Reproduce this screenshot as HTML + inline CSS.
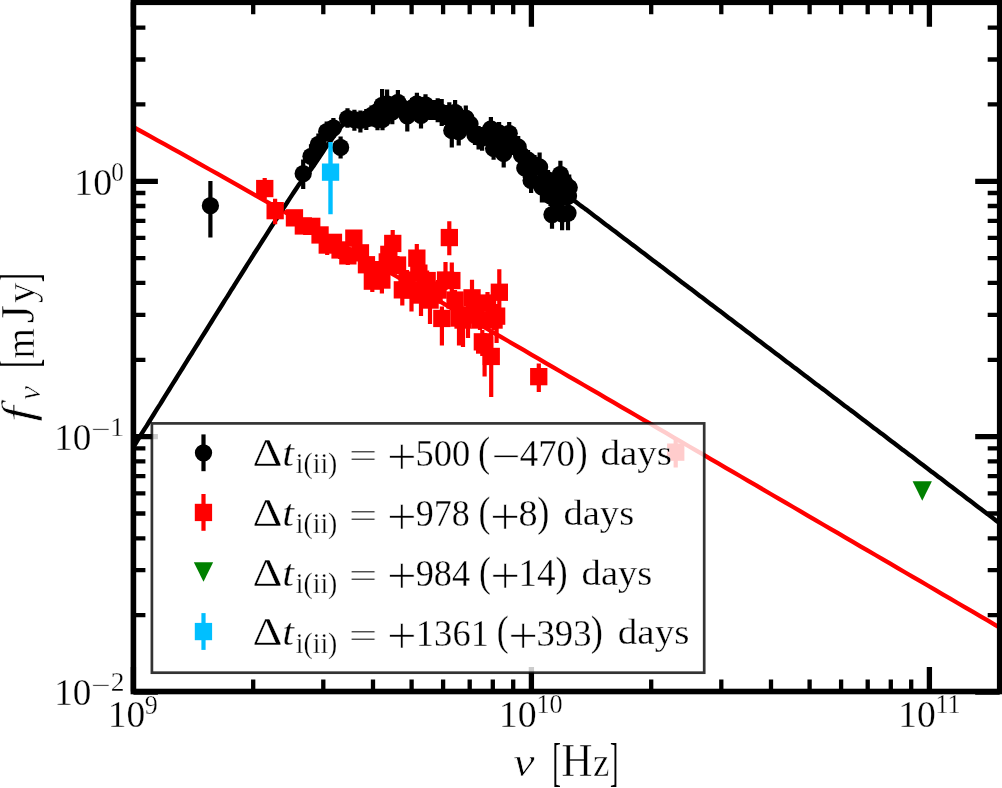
<!DOCTYPE html>
<html lang="en"><head><meta charset="utf-8"><title>Radio SED</title>
<style>html,body{margin:0;padding:0;background:#fff}svg{display:block}</style></head>
<body>
<svg width="1002" height="788" viewBox="0 0 1002 788">
<defs><clipPath id="ax"><rect x="133.4" y="2.3" width="866.3" height="689.2"/></clipPath></defs>
<rect width="1002" height="788" fill="#fff"/>
<g clip-path="url(#ax)" fill="none" stroke-linecap="butt" stroke-linejoin="round">
<polyline points="120.0,119.8 127.5,123.9 135.0,128.0 142.4,132.0 149.9,136.2 157.4,140.3 164.9,144.4 172.4,148.6 179.8,152.7 187.3,156.9 194.8,161.1 202.3,165.3 209.7,169.5 217.2,173.7 224.7,177.9 232.2,182.1 239.7,186.4 247.1,190.6 254.6,194.9 262.1,199.1 269.6,203.4 277.1,207.6 284.5,211.9 292.0,216.2 299.5,220.5 307.0,224.8 314.5,229.1 321.9,233.3 329.4,237.6 336.9,241.9 344.4,246.2 351.8,250.6 359.3,254.9 366.8,259.2 374.3,263.5 381.8,267.8 389.2,272.1 396.7,276.5 404.2,280.8 411.7,285.1 419.2,289.4 426.6,293.8 434.1,298.1 441.6,302.4 449.1,306.8 456.6,311.1 464.0,315.5 471.5,319.8 479.0,324.1 486.5,328.5 493.9,332.8 501.4,337.2 508.9,341.5 516.4,345.9 523.9,350.2 531.3,354.6 538.8,358.9 546.3,363.3 553.8,367.6 561.3,372.0 568.7,376.3 576.2,380.7 583.7,385.0 591.2,389.4 598.7,393.7 606.1,398.1 613.6,402.4 621.1,406.8 628.6,411.1 636.1,415.5 643.5,419.9 651.0,424.2 658.5,428.6 666.0,432.9 673.4,437.3 680.9,441.6 688.4,446.0 695.9,450.4 703.4,454.7 710.8,459.1 718.3,463.4 725.8,467.8 733.3,472.2 740.8,476.5 748.2,480.9 755.7,485.2 763.2,489.6 770.7,494.0 778.2,498.3 785.6,502.7 793.1,507.0 800.6,511.4 808.1,515.8 815.5,520.1 823.0,524.5 830.5,528.8 838.0,533.2 845.5,537.6 852.9,541.9 860.4,546.3 867.9,550.7 875.4,555.0 882.9,559.4 890.3,563.7 897.8,568.1 905.3,572.5 912.8,576.8 920.3,581.2 927.7,585.5 935.2,589.9 942.7,594.3 950.2,598.6 957.6,603.0 965.1,607.4 972.6,611.7 980.1,616.1 987.6,620.4 995.0,624.8 1002.5,629.2 1010.0,633.5" stroke="#f00" stroke-width="4.3"/>
<polyline points="120.0,468.5 122.2,465.0 124.5,461.4 126.7,457.8 128.9,454.2 131.2,450.6 133.4,447.0 135.6,443.5 137.8,439.9 140.1,436.3 142.3,432.7 144.5,429.1 146.8,425.6 149.0,422.0 151.2,418.4 153.5,414.8 155.7,411.2 157.9,407.6 160.2,404.1 162.4,400.5 164.6,396.9 166.8,393.3 169.1,389.7 171.3,386.2 173.5,382.6 175.8,379.0 178.0,375.4 180.2,371.9 182.5,368.3 184.7,364.7 186.9,361.1 189.1,357.5 191.4,354.0 193.6,350.4 195.8,346.8 198.1,343.2 200.3,339.7 202.5,336.1 204.8,332.5 207.0,329.0 209.2,325.4 211.5,321.8 213.7,318.2 215.9,314.7 218.1,311.1 220.4,307.5 222.6,304.0 224.8,300.4 227.1,296.9 229.3,293.3 231.5,289.7 233.8,286.2 236.0,282.6 238.2,279.1 240.5,275.5 242.7,272.0 244.9,268.5 247.1,264.9 249.4,261.4 251.6,257.9 253.8,254.3 256.1,250.8 258.3,247.3 260.5,243.8 262.8,240.3 265.0,236.8 267.2,233.3 269.4,229.8 271.7,226.3 273.9,222.9 276.1,219.4 278.4,216.0 280.6,212.5 282.8,209.1 285.1,205.7 287.3,202.3 289.5,198.9 291.8,195.4 294.0,192.0 296.2,188.7 298.4,185.4 300.7,182.3 302.9,179.5 305.1,176.7 307.4,174.0 309.6,171.2 311.8,168.3 314.1,165.1 316.3,161.8 318.5,158.5 320.8,155.1 323.0,151.7 325.2,148.4 327.4,145.2 329.7,142.1 331.9,139.0 334.1,136.0 336.4,132.9 338.6,129.8 340.8,127.1 343.1,124.7 345.3,122.6 347.5,121.3 349.7,120.4 352.0,119.8 354.2,119.2 356.4,118.7 358.7,118.3 360.9,117.9 363.1,117.4 365.4,116.9 367.6,116.2 369.8,115.2 372.1,114.2 374.3,113.2 376.5,112.2 378.7,111.4 381.0,110.7 383.2,110.1 385.4,109.5 387.7,108.9 389.9,108.3 392.1,107.9 394.4,107.5 396.6,107.2 398.8,107.0 401.1,107.0 403.3,107.0 405.5,107.1 407.7,107.2 410.0,107.4 412.2,107.6 414.4,107.8 416.7,108.0 418.9,108.3 421.1,108.5 423.4,108.8 425.6,109.1 427.8,109.5 430.1,110.0 432.3,110.5 434.5,111.2 436.7,112.0 439.0,112.8 441.2,113.6 443.4,114.4 445.7,115.3 447.9,116.2 450.1,117.0 452.4,117.9 454.6,118.9 456.8,119.9 459.0,120.9 461.3,122.0 463.5,123.1 465.7,124.2 468.0,125.3 470.2,126.4 472.4,127.5 474.7,128.6 476.9,129.6 479.1,130.6 481.4,131.6 483.6,132.5 485.8,133.3 488.0,134.1 490.3,134.9 492.5,135.7 494.7,136.5 497.0,137.3 499.2,138.2 501.4,139.0 503.7,140.0 505.9,141.0 508.1,142.0 510.4,143.2 512.6,144.5 514.8,145.9 517.0,147.4 519.3,149.1 521.5,150.8 523.7,152.7 526.0,154.6 528.2,156.5 530.4,158.5 532.7,160.6 534.9,162.6 537.1,164.7 539.3,166.8 541.6,168.9 543.8,170.9 546.0,172.9 548.3,175.0 550.5,177.2 552.7,179.5 555.0,181.7 557.2,184.0 559.4,186.4 561.7,188.7 563.9,190.9 566.1,193.2 568.3,195.3 570.6,197.4 572.8,199.4 575.0,201.3 577.3,203.1 579.5,204.8 581.7,206.4 584.0,208.0 586.2,209.6 588.4,211.3 590.7,213.0 592.9,214.7 595.1,216.4 597.3,218.1 599.6,219.8 601.8,221.5 604.0,223.2 606.3,224.9 608.5,226.5 610.7,228.2 613.0,229.9 615.2,231.6 617.4,233.3 619.6,235.0 621.9,236.7 624.1,238.4 626.3,240.1 628.6,241.8 630.8,243.5 633.0,245.1 635.3,246.8 637.5,248.5 639.7,250.2 642.0,251.9 644.2,253.6 646.4,255.3 648.6,257.0 650.9,258.7 653.1,260.4 655.3,262.1 657.6,263.8 659.8,265.4 662.0,267.1 664.3,268.8 666.5,270.5 668.7,272.2 671.0,273.9 673.2,275.6 675.4,277.3 677.6,279.0 679.9,280.7 682.1,282.4 684.3,284.1 686.6,285.7 688.8,287.4 691.0,289.1 693.3,290.8 695.5,292.5 697.7,294.2 699.9,295.9 702.2,297.6 704.4,299.3 706.6,301.0 708.9,302.7 711.1,304.4 713.3,306.0 715.6,307.7 717.8,309.4 720.0,311.1 722.3,312.8 724.5,314.5 726.7,316.2 728.9,317.9 731.2,319.6 733.4,321.3 735.6,323.0 737.9,324.7 740.1,326.3 742.3,328.0 744.6,329.7 746.8,331.4 749.0,333.1 751.3,334.8 753.5,336.5 755.7,338.2 757.9,339.9 760.2,341.6 762.4,343.3 764.6,345.0 766.9,346.7 769.1,348.3 771.3,350.0 773.6,351.7 775.8,353.4 778.0,355.1 780.3,356.8 782.5,358.5 784.7,360.2 786.9,361.9 789.2,363.6 791.4,365.3 793.6,367.0 795.9,368.6 798.1,370.3 800.3,372.0 802.6,373.7 804.8,375.4 807.0,377.1 809.2,378.8 811.5,380.5 813.7,382.2 815.9,383.9 818.2,385.6 820.4,387.3 822.6,388.9 824.9,390.6 827.1,392.3 829.3,394.0 831.6,395.7 833.8,397.4 836.0,399.1 838.2,400.8 840.5,402.5 842.7,404.2 844.9,405.9 847.2,407.6 849.4,409.3 851.6,410.9 853.9,412.6 856.1,414.3 858.3,416.0 860.6,417.7 862.8,419.4 865.0,421.1 867.2,422.8 869.5,424.5 871.7,426.2 873.9,427.9 876.2,429.6 878.4,431.2 880.6,432.9 882.9,434.6 885.1,436.3 887.3,438.0 889.5,439.7 891.8,441.4 894.0,443.1 896.2,444.8 898.5,446.5 900.7,448.2 902.9,449.9 905.2,451.5 907.4,453.2 909.6,454.9 911.9,456.6 914.1,458.3 916.3,460.0 918.5,461.7 920.8,463.4 923.0,465.1 925.2,466.8 927.5,468.5 929.7,470.2 931.9,471.9 934.2,473.5 936.4,475.2 938.6,476.9 940.9,478.6 943.1,480.3 945.3,482.0 947.5,483.7 949.8,485.4 952.0,487.1 954.2,488.8 956.5,490.5 958.7,492.2 960.9,493.8 963.2,495.5 965.4,497.2 967.6,498.9 969.8,500.6 972.1,502.3 974.3,504.0 976.5,505.7 978.8,507.4 981.0,509.1 983.2,510.8 985.5,512.5 987.7,514.1 989.9,515.8 992.2,517.5 994.4,519.2 996.6,520.9 998.8,522.6 1001.1,524.3 1003.3,526.0 1005.5,527.7 1007.8,529.4 1010.0,531.1" stroke="#000" stroke-width="4.4"/>
</g>
<g clip-path="url(#ax)">
<path d="M210.4 181.1V237.5M303.2 159.6V189.1M311.0 144.3V168.3M318.4 133.4V155.4M326.7 121.6V141.6M333.4 117.9V137.9M340.6 136.4V158.6M347.5 108.3V127.8M354.4 109.7V130.7M360.4 110.4V132.4M366.3 108.9V129.9M371.5 105.5V126.5M376.8 102.0V123.0M377.5 109.5V130.2M382.5 109.5V130.2M382.1 89.1V117.3M387.1 89.6V115.9M392.3 100.8V124.3M397.9 89.9V114.3M402.6 98.0V119.0M407.3 103.9V131.6M412.1 98.0V119.0M416.9 92.8V114.8M421.0 103.4V128.4M425.5 94.3V115.8M430.2 100.0V120.0M434.2 100.0V120.0M437.7 98.3V122.3M441.7 99.1V126.1M445.7 105.0V125.0M449.3 102.3V126.3M451.8 116.5V147.5M455.1 100.0V124.3M458.7 119.7V145.4M462.0 110.0V130.0M465.8 105.6V130.1M470.0 114.0V134.0M475.0 125.0V145.0M478.6 126.0V149.5M482.1 127.0V150.7M486.0 125.0V145.0M490.9 117.1V140.8M493.6 137.5V159.8M496.5 130.0V150.0M499.1 122.0V144.0M503.7 141.5V167.5M506.5 130.0V150.0M509.2 122.0V144.3M513.0 135.0V155.0M518.2 136.0V158.0M521.5 145.0V165.0M524.8 158.0V178.0M528.0 150.0V170.0M531.1 168.5V193.0M534.5 155.0V175.0M539.6 152.5V179.0M541.9 175.0V202.5M544.9 176.0V202.5M548.0 170.0V190.0M552.0 202.6V228.8M550.5 186.0V206.0M557.5 191.0V211.0M555.0 175.0V195.0M558.0 180.0V200.0M560.4 160.8V186.3M562.1 202.0V230.3M565.0 185.0V205.0M568.0 201.1V230.3M569.2 174.5V197.5M564.5 172.5V192.5M568.5 186.0V206.0" stroke="#000" stroke-width="4.2" fill="none"/>
<g fill="#000"><circle cx="210.4" cy="205.7" r="8.65"/><circle cx="303.2" cy="173.6" r="8.65"/><circle cx="311.0" cy="156.3" r="8.65"/><circle cx="318.4" cy="144.4" r="8.65"/><circle cx="326.7" cy="131.6" r="8.65"/><circle cx="333.4" cy="127.9" r="8.65"/><circle cx="340.6" cy="147.4" r="8.65"/><circle cx="347.5" cy="118.3" r="8.65"/><circle cx="354.4" cy="119.7" r="8.65"/><circle cx="360.4" cy="120.4" r="8.65"/><circle cx="366.3" cy="118.9" r="8.65"/><circle cx="371.5" cy="115.5" r="8.65"/><circle cx="376.8" cy="112.0" r="8.65"/><circle cx="377.5" cy="119.5" r="8.65"/><circle cx="382.5" cy="119.5" r="8.65"/><circle cx="382.1" cy="105.3" r="8.65"/><circle cx="387.1" cy="103.9" r="8.65"/><circle cx="392.3" cy="111.8" r="8.65"/><circle cx="397.9" cy="102.3" r="8.65"/><circle cx="402.6" cy="108.0" r="8.65"/><circle cx="407.3" cy="115.9" r="8.65"/><circle cx="412.1" cy="108.0" r="8.65"/><circle cx="416.9" cy="103.8" r="8.65"/><circle cx="421.0" cy="115.4" r="8.65"/><circle cx="425.5" cy="104.8" r="8.65"/><circle cx="430.2" cy="110.0" r="8.65"/><circle cx="434.2" cy="110.0" r="8.65"/><circle cx="437.7" cy="110.3" r="8.65"/><circle cx="441.7" cy="112.6" r="8.65"/><circle cx="445.7" cy="115.0" r="8.65"/><circle cx="449.3" cy="114.3" r="8.65"/><circle cx="451.8" cy="130.5" r="8.65"/><circle cx="455.1" cy="112.3" r="8.65"/><circle cx="458.7" cy="131.7" r="8.65"/><circle cx="462.0" cy="120.0" r="8.65"/><circle cx="465.8" cy="118.1" r="8.65"/><circle cx="470.0" cy="124.0" r="8.65"/><circle cx="475.0" cy="135.0" r="8.65"/><circle cx="478.6" cy="137.0" r="8.65"/><circle cx="482.1" cy="138.0" r="8.65"/><circle cx="486.0" cy="135.0" r="8.65"/><circle cx="490.9" cy="128.8" r="8.65"/><circle cx="493.6" cy="148.5" r="8.65"/><circle cx="496.5" cy="140.0" r="8.65"/><circle cx="499.1" cy="133.0" r="8.65"/><circle cx="503.7" cy="153.5" r="8.65"/><circle cx="506.5" cy="140.0" r="8.65"/><circle cx="509.2" cy="133.3" r="8.65"/><circle cx="513.0" cy="145.0" r="8.65"/><circle cx="518.2" cy="147.0" r="8.65"/><circle cx="521.5" cy="155.0" r="8.65"/><circle cx="524.8" cy="168.0" r="8.65"/><circle cx="528.0" cy="160.0" r="8.65"/><circle cx="531.1" cy="180.5" r="8.65"/><circle cx="534.5" cy="165.0" r="8.65"/><circle cx="539.6" cy="167.0" r="8.65"/><circle cx="541.9" cy="187.0" r="8.65"/><circle cx="544.9" cy="188.0" r="8.65"/><circle cx="548.0" cy="180.0" r="8.65"/><circle cx="552.0" cy="214.6" r="8.65"/><circle cx="550.5" cy="196.0" r="8.65"/><circle cx="557.5" cy="201.0" r="8.65"/><circle cx="555.0" cy="185.0" r="8.65"/><circle cx="558.0" cy="190.0" r="8.65"/><circle cx="560.4" cy="174.3" r="8.65"/><circle cx="562.1" cy="214.0" r="8.65"/><circle cx="565.0" cy="195.0" r="8.65"/><circle cx="568.0" cy="213.1" r="8.65"/><circle cx="569.2" cy="187.5" r="8.65"/><circle cx="564.5" cy="182.5" r="8.65"/><circle cx="568.5" cy="196.0" r="8.65"/></g>
<path d="M264.7 178.1V199.1M275.1 198.7V224.2M294.4 209.9V225.9M303.3 218.0V234.0M311.7 218.3V234.3M320.0 227.0V243.0M327.2 237.1V255.1M333.4 234.3V252.3M340.0 242.0V259.0M347.8 247.9V264.9M353.9 230.2V246.2M360.4 244.8V260.8M366.4 256.7V272.7M372.3 271.1V292.1M377.0 261.0V279.0M381.9 268.0V293.6M387.2 252.0V285.0M388.8 246.3V262.3M392.7 229.9V257.4M397.5 256.0V274.0M402.3 277.8V305.4M407.0 270.0V290.0M411.5 278.0V311.5M416.8 244.1V272.1M418.9 263.1V283.1M427.1 270.5V290.5M421.0 283.0V316.0M425.0 280.0V302.0M430.0 288.0V324.0M434.0 285.0V307.0M438.0 280.0V300.0M441.9 306.4V345.4M445.5 262.0V290.0M449.3 221.3V255.2M451.8 262.5V292.5M455.0 290.0V310.0M459.0 306.0V345.5M463.0 308.0V347.0M468.0 303.0V338.0M472.0 279.8V309.8M476.0 300.0V320.0M480.0 310.0V330.0M482.3 329.9V355.9M484.6 333.0V376.6M487.5 292.0V313.0M491.2 331.4V397.1M494.0 310.0V330.0M496.6 304.1V343.1M499.3 269.2V317.2M538.8 363.4V391.9M675.7 438.6V467.5" stroke="#f00" stroke-width="4.2" fill="none"/>
<g fill="#f00"><rect x="256.1" y="179.9" width="17.3" height="17.3"/><rect x="266.5" y="202.0" width="17.3" height="17.3"/><rect x="285.8" y="209.2" width="17.3" height="17.3"/><rect x="294.7" y="217.3" width="17.3" height="17.3"/><rect x="303.1" y="217.7" width="17.3" height="17.3"/><rect x="311.4" y="226.3" width="17.3" height="17.3"/><rect x="318.6" y="236.4" width="17.3" height="17.3"/><rect x="324.8" y="233.7" width="17.3" height="17.3"/><rect x="331.4" y="241.3" width="17.3" height="17.3"/><rect x="339.2" y="247.2" width="17.3" height="17.3"/><rect x="345.2" y="229.5" width="17.3" height="17.3"/><rect x="351.8" y="244.2" width="17.3" height="17.3"/><rect x="357.8" y="256.1" width="17.3" height="17.3"/><rect x="363.7" y="272.5" width="17.3" height="17.3"/><rect x="368.4" y="261.4" width="17.3" height="17.3"/><rect x="373.2" y="271.4" width="17.3" height="17.3"/><rect x="378.6" y="253.3" width="17.3" height="17.3"/><rect x="380.2" y="245.7" width="17.3" height="17.3"/><rect x="384.1" y="234.8" width="17.3" height="17.3"/><rect x="388.9" y="256.4" width="17.3" height="17.3"/><rect x="393.7" y="281.2" width="17.3" height="17.3"/><rect x="398.4" y="271.4" width="17.3" height="17.3"/><rect x="402.9" y="281.4" width="17.3" height="17.3"/><rect x="408.2" y="249.5" width="17.3" height="17.3"/><rect x="410.2" y="264.5" width="17.3" height="17.3"/><rect x="418.5" y="271.9" width="17.3" height="17.3"/><rect x="412.4" y="286.4" width="17.3" height="17.3"/><rect x="416.4" y="281.4" width="17.3" height="17.3"/><rect x="421.4" y="291.4" width="17.3" height="17.3"/><rect x="425.4" y="286.4" width="17.3" height="17.3"/><rect x="429.4" y="281.4" width="17.3" height="17.3"/><rect x="433.2" y="309.8" width="17.3" height="17.3"/><rect x="436.9" y="271.4" width="17.3" height="17.3"/><rect x="440.7" y="228.9" width="17.3" height="17.3"/><rect x="443.2" y="271.9" width="17.3" height="17.3"/><rect x="446.4" y="291.4" width="17.3" height="17.3"/><rect x="450.4" y="309.4" width="17.3" height="17.3"/><rect x="454.4" y="311.4" width="17.3" height="17.3"/><rect x="459.4" y="306.4" width="17.3" height="17.3"/><rect x="463.4" y="289.2" width="17.3" height="17.3"/><rect x="467.4" y="301.4" width="17.3" height="17.3"/><rect x="471.4" y="311.4" width="17.3" height="17.3"/><rect x="473.7" y="333.2" width="17.3" height="17.3"/><rect x="476.0" y="336.4" width="17.3" height="17.3"/><rect x="478.9" y="294.4" width="17.3" height="17.3"/><rect x="482.6" y="347.8" width="17.3" height="17.3"/><rect x="485.4" y="311.4" width="17.3" height="17.3"/><rect x="488.0" y="307.5" width="17.3" height="17.3"/><rect x="490.7" y="283.6" width="17.3" height="17.3"/><rect x="530.1" y="368.0" width="17.3" height="17.3"/><rect x="667.1" y="443.5" width="17.3" height="17.3"/></g>
<path d="M912.60 481.30H931.90L922.25 500.75Z" fill="#008000"/>
<path d="M330.5 142V214.3" stroke="#00bfff" stroke-width="4.4"/>
<rect x="321.9" y="163.5" width="17.3" height="17.3" fill="#00bfff"/>
</g>
<path d="M133.4 691.5v-24.5M133.4 2.3v24.5M531.4 691.5v-24.5M531.4 2.3v24.5M929.4 691.5v-24.5M929.4 2.3v24.5M133.4 692.0h24.5M999.7 692.0h-24.5M133.4 436.6h24.5M999.7 436.6h-24.5M133.4 181.3h24.5M999.7 181.3h-24.5" stroke="#000" stroke-width="5.3" fill="none"/>
<path d="M253.2 691.5v-12.0M253.2 2.3v12.0M323.3 691.5v-12.0M323.3 2.3v12.0M373.0 691.5v-12.0M373.0 2.3v12.0M411.6 691.5v-12.0M411.6 2.3v12.0M443.1 691.5v-12.0M443.1 2.3v12.0M469.7 691.5v-12.0M469.7 2.3v12.0M492.8 691.5v-12.0M492.8 2.3v12.0M513.2 691.5v-12.0M513.2 2.3v12.0M651.2 691.5v-12.0M651.2 2.3v12.0M721.3 691.5v-12.0M721.3 2.3v12.0M771.0 691.5v-12.0M771.0 2.3v12.0M809.6 691.5v-12.0M809.6 2.3v12.0M841.1 691.5v-12.0M841.1 2.3v12.0M867.7 691.5v-12.0M867.7 2.3v12.0M890.8 691.5v-12.0M890.8 2.3v12.0M911.2 691.5v-12.0M911.2 2.3v12.0M133.4 615.1h12.0M999.7 615.1h-12.0M133.4 570.2h12.0M999.7 570.2h-12.0M133.4 538.3h12.0M999.7 538.3h-12.0M133.4 513.5h12.0M999.7 513.5h-12.0M133.4 493.3h12.0M999.7 493.3h-12.0M133.4 476.2h12.0M999.7 476.2h-12.0M133.4 461.4h12.0M999.7 461.4h-12.0M133.4 448.3h12.0M999.7 448.3h-12.0M133.4 359.8h12.0M999.7 359.8h-12.0M133.4 314.8h12.0M999.7 314.8h-12.0M133.4 282.9h12.0M999.7 282.9h-12.0M133.4 258.2h12.0M999.7 258.2h-12.0M133.4 237.9h12.0M999.7 237.9h-12.0M133.4 220.9h12.0M999.7 220.9h-12.0M133.4 206.0h12.0M999.7 206.0h-12.0M133.4 193.0h12.0M999.7 193.0h-12.0M133.4 104.4h12.0M999.7 104.4h-12.0M133.4 59.5h12.0M999.7 59.5h-12.0M133.4 27.6h12.0M999.7 27.6h-12.0M133.4 2.8h12.0M999.7 2.8h-12.0" stroke="#000" stroke-width="4.3" fill="none"/>
<rect x="133.4" y="2.3" width="866.3" height="689.2" fill="none" stroke="#000" stroke-width="5.6"/>
<rect x="151.9" y="423.4" width="552.3" height="249.3" fill="#fff" fill-opacity="0.8" stroke="#000" stroke-opacity="0.8" stroke-width="2.7"/>
<path d="M203.5 434.4v36.8" stroke="#000" stroke-width="4.2"/>
<circle cx="203.5" cy="452.8" r="8.65" fill="#000"/>
<path d="M203.5 494.0v36.8" stroke="#f00" stroke-width="4.2"/>
<rect x="194.8" y="503.8" width="17.3" height="17.3" fill="#f00"/>
<path d="M193.85 562.30H213.15L203.50 581.70Z" fill="#008000"/>
<path d="M203.5 613.1v36.8" stroke="#00bfff" stroke-width="4.2"/>
<rect x="194.8" y="622.9" width="17.3" height="17.3" fill="#00bfff"/>
<g font-family="'Liberation Serif', 'DejaVu Serif', serif" fill="#000">
<g>
<text transform="translate(252.43 465.80) scale(1.1889 1.0000)" font-size="39.24" stroke="#fff" stroke-width="0.30">Δ</text>
<text transform="translate(282.23 465.82) scale(1.1074 1.0000)" font-size="38.39" font-style="italic" stroke="#fff" stroke-width="0.30">t</text>
<text transform="translate(295.82 473.02) scale(0.9688 1.0000)" font-size="28.56" stroke="#fff" stroke-width="0.30">i(ii)</text>
<text transform="translate(348.42 468.13) scale(1.4179 1.0000)" font-size="36.40" stroke="#fff" stroke-width="0.70">=</text>
<text transform="translate(386.84 473.78) scale(1.0145 1.0000)" font-size="52.36" stroke="#fff" stroke-width="0.70">+</text>
<text transform="translate(415.48 466.32) scale(0.9504 1.0000)" font-size="38.37" stroke="#fff" stroke-width="0.30">500</text>
<text transform="translate(477.99 465.93) scale(0.8684 1.0000)" font-size="42.12" stroke="#fff" stroke-width="0.30">(</text>
<text transform="translate(491.40 470.91) scale(1.1828 1.0000)" font-size="44.00" stroke="#fff" stroke-width="0.70">−</text>
<text transform="translate(519.80 466.32) scale(0.9590 1.0000)" font-size="38.37" stroke="#fff" stroke-width="0.30">470</text>
<text transform="translate(575.43 465.93) scale(0.8684 1.0000)" font-size="42.12" stroke="#fff" stroke-width="0.30">)</text>
<text transform="translate(600.39 464.91) scale(1.0855 1.0000)" font-size="36.04" stroke="#fff" stroke-width="0.30">days</text>
</g>
<g>
<text transform="translate(252.43 525.60) scale(1.1889 1.0000)" font-size="39.24" stroke="#fff" stroke-width="0.30">Δ</text>
<text transform="translate(282.23 525.62) scale(1.1074 1.0000)" font-size="38.39" font-style="italic" stroke="#fff" stroke-width="0.30">t</text>
<text transform="translate(295.82 532.82) scale(0.9688 1.0000)" font-size="28.56" stroke="#fff" stroke-width="0.30">i(ii)</text>
<text transform="translate(348.42 527.93) scale(1.4179 1.0000)" font-size="36.40" stroke="#fff" stroke-width="0.70">=</text>
<text transform="translate(386.84 533.58) scale(1.0145 1.0000)" font-size="52.36" stroke="#fff" stroke-width="0.70">+</text>
<text transform="translate(415.75 526.12) scale(0.9386 1.0000)" font-size="38.37" stroke="#fff" stroke-width="0.30">978</text>
<text transform="translate(478.62 525.73) scale(0.8500 1.0000)" font-size="42.12" stroke="#fff" stroke-width="0.30">(</text>
<text transform="translate(490.01 533.58) scale(1.0268 1.0000)" font-size="52.36" stroke="#fff" stroke-width="0.70">+</text>
<text transform="translate(518.55 526.12) scale(0.9958 1.0000)" font-size="38.37" stroke="#fff" stroke-width="0.30">8</text>
<text transform="translate(537.34 525.73) scale(0.8592 1.0000)" font-size="42.12" stroke="#fff" stroke-width="0.30">)</text>
<text transform="translate(563.41 524.71) scale(1.0713 1.0000)" font-size="36.04" stroke="#fff" stroke-width="0.30">days</text>
</g>
<g>
<text transform="translate(252.43 585.50) scale(1.1889 1.0000)" font-size="39.24" stroke="#fff" stroke-width="0.30">Δ</text>
<text transform="translate(282.23 585.52) scale(1.1074 1.0000)" font-size="38.39" font-style="italic" stroke="#fff" stroke-width="0.30">t</text>
<text transform="translate(295.82 592.72) scale(0.9688 1.0000)" font-size="28.56" stroke="#fff" stroke-width="0.30">i(ii)</text>
<text transform="translate(348.42 587.83) scale(1.4179 1.0000)" font-size="36.40" stroke="#fff" stroke-width="0.70">=</text>
<text transform="translate(386.84 593.48) scale(1.0145 1.0000)" font-size="52.36" stroke="#fff" stroke-width="0.70">+</text>
<text transform="translate(415.74 586.02) scale(0.9441 1.0000)" font-size="38.37" stroke="#fff" stroke-width="0.30">984</text>
<text transform="translate(478.92 585.63) scale(0.8500 1.0000)" font-size="42.12" stroke="#fff" stroke-width="0.30">(</text>
<text transform="translate(490.13 593.48) scale(1.0186 1.0000)" font-size="52.36" stroke="#fff" stroke-width="0.70">+</text>
<text transform="translate(518.53 586.40) scale(0.9471 1.0000)" font-size="39.24" stroke="#fff" stroke-width="0.30">14</text>
<text transform="translate(555.43 585.63) scale(0.8684 1.0000)" font-size="42.12" stroke="#fff" stroke-width="0.30">)</text>
<text transform="translate(581.61 584.61) scale(1.0713 1.0000)" font-size="36.04" stroke="#fff" stroke-width="0.30">days</text>
</g>
<g>
<text transform="translate(252.43 645.30) scale(1.1889 1.0000)" font-size="39.24" stroke="#fff" stroke-width="0.30">Δ</text>
<text transform="translate(282.23 645.32) scale(1.1074 1.0000)" font-size="38.39" font-style="italic" stroke="#fff" stroke-width="0.30">t</text>
<text transform="translate(295.82 652.52) scale(0.9688 1.0000)" font-size="28.56" stroke="#fff" stroke-width="0.30">i(ii)</text>
<text transform="translate(348.42 647.63) scale(1.4179 1.0000)" font-size="36.40" stroke="#fff" stroke-width="0.70">=</text>
<text transform="translate(386.84 653.28) scale(1.0145 1.0000)" font-size="52.36" stroke="#fff" stroke-width="0.70">+</text>
<text transform="translate(415.78 645.81) scale(0.9499 1.0000)" font-size="38.54" stroke="#fff" stroke-width="0.30">1361</text>
<text transform="translate(496.82 645.43) scale(0.8500 1.0000)" font-size="42.12" stroke="#fff" stroke-width="0.30">(</text>
<text transform="translate(508.14 653.28) scale(1.0145 1.0000)" font-size="52.36" stroke="#fff" stroke-width="0.70">+</text>
<text transform="translate(536.54 645.81) scale(0.9512 1.0000)" font-size="38.54" stroke="#fff" stroke-width="0.30">393</text>
<text transform="translate(590.83 645.43) scale(0.8684 1.0000)" font-size="42.12" stroke="#fff" stroke-width="0.30">)</text>
<text transform="translate(617.79 644.41) scale(1.0839 1.0000)" font-size="36.04" stroke="#fff" stroke-width="0.30">days</text>
</g>
<g><text transform="translate(74.27 194.51) scale(0.9794 1.0000)" font-size="38.67" stroke="#fff" stroke-width="0.30">10</text><text transform="translate(111.34 181.43) scale(0.9411 1.0000)" font-size="26.81" stroke="#fff" stroke-width="0.30">0</text></g>
<g><text transform="translate(54.23 449.71) scale(0.9617 1.0000)" font-size="38.67" stroke="#fff" stroke-width="0.30">10</text><text transform="translate(90.75 440.42) scale(1.0954 1.0000)" font-size="32.00" stroke="#fff" stroke-width="0.70">−</text><text transform="translate(110.28 435.80) scale(1.0334 1.0000)" font-size="26.67" stroke="#fff" stroke-width="0.30">1</text></g>
<g><text transform="translate(54.23 705.31) scale(0.9617 1.0000)" font-size="38.67" stroke="#fff" stroke-width="0.30">10</text><text transform="translate(90.75 695.52) scale(1.0954 1.0000)" font-size="32.00" stroke="#fff" stroke-width="0.70">−</text><text transform="translate(110.79 691.40) scale(1.0033 1.0000)" font-size="27.34" stroke="#fff" stroke-width="0.30">2</text></g>
<g><text transform="translate(107.81 726.81) scale(0.9676 1.0000)" font-size="38.67" stroke="#fff" stroke-width="0.30">10</text><text transform="translate(144.87 713.63) scale(0.9651 1.0000)" font-size="26.93" stroke="#fff" stroke-width="0.30">9</text></g>
<g><text transform="translate(498.87 726.61) scale(0.9794 1.0000)" font-size="38.67" stroke="#fff" stroke-width="0.30">10</text><text transform="translate(536.39 713.33) scale(0.9771 1.0000)" font-size="26.81" stroke="#fff" stroke-width="0.30">10</text></g>
<g><text transform="translate(898.19 726.71) scale(0.9735 1.0000)" font-size="38.67" stroke="#fff" stroke-width="0.30">10</text><text transform="translate(935.41 712.70) scale(0.9755 1.0000)" font-size="26.67" stroke="#fff" stroke-width="0.30">11</text></g>
<g>
<text transform="translate(513.13 776.09) scale(1.1698 1.0000)" font-size="41.15" font-style="italic" stroke="#fff" stroke-width="0.60">ν</text>
<text transform="translate(552.44 780.33) scale(0.4694 1.0000)" font-size="53.50">[</text>
<text transform="translate(561.24 776.30) scale(0.9438 1.0000)" font-size="45.95" stroke="#fff" stroke-width="0.60">H</text>
<text transform="translate(592.90 776.30) scale(0.8758 1.0000)" font-size="42.27" stroke="#fff" stroke-width="0.60">z</text>
<text transform="translate(609.91 780.33) scale(0.4610 1.0000)" font-size="53.50">]</text>
</g>
<g transform="rotate(-90)">
<text transform="translate(-421.82 33.22) scale(1.2834 1.0000)" font-size="44.06" font-style="italic" stroke="#fff" stroke-width="0.60">f</text>
<text transform="translate(-400.35 40.19) scale(1.0384 1.0000)" font-size="31.13" font-style="italic" stroke="#fff" stroke-width="0.60">ν</text>
<text transform="translate(-367.72 37.47) scale(0.5000 1.0000)" font-size="54.71">[</text>
<text transform="translate(-358.63 33.80) scale(0.9374 1.0000)" font-size="42.04" stroke="#fff" stroke-width="0.60">m</text>
<text transform="translate(-323.18 34.02) scale(0.9763 1.0000)" font-size="47.82" stroke="#fff" stroke-width="0.60">J</text>
<text transform="translate(-303.30 33.54) scale(0.9856 1.0000)" font-size="41.93" stroke="#fff" stroke-width="0.60">y</text>
<text transform="translate(-282.17 37.47) scale(0.4918 1.0000)" font-size="54.71">]</text>
</g>
</g>
</svg>
</body></html>
